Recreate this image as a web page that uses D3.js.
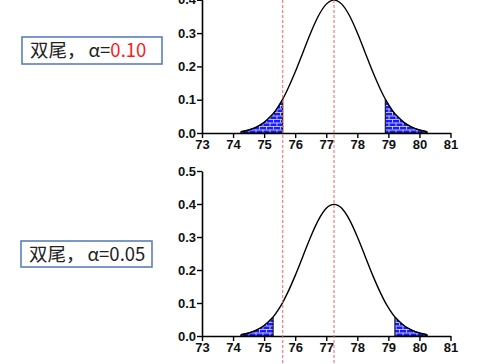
<!DOCTYPE html>
<html>
<head>
<meta charset="utf-8">
<script src="https://cdn.jsdelivr.net/npm/d3@7/dist/d3.min.js"></script>
<style>
  body { margin: 0; background: #fff; }
  svg { display: block; }
</style>
</head>
<body>
<script>
// curve (x, density)
var curveX = [74.25, 74.5, 74.75, 75, 75.25, 75.29, 75.5, 75.6, 75.75, 76, 76.25, 76.5, 76.75, 77,
              77.25, 77.5, 77.75, 78, 78.25, 78.5, 78.75, 78.9, 79, 79.21, 79.25, 79.5, 79.75, 80, 80.25];
var curveY = [0.004, 0.009, 0.018, 0.032, 0.054, 0.058, 0.086, 0.102, 0.130, 0.183, 0.242, 0.301, 0.352, 0.387,
              0.399, 0.387, 0.352, 0.301, 0.242, 0.183, 0.130, 0.102, 0.086, 0.058, 0.054, 0.032, 0.018, 0.009, 0.004];
var xTicks = [73, 74, 75, 76, 77, 78, 79, 80, 81];
var yTicks = [0, 0.1, 0.2, 0.3, 0.4, 0.5];
var panelAlpha = ["0.10", "0.05"];
var critLow = [75.6, 75.29];
var critHigh = [78.9, 79.21];
var guideX = [75.6, 77.25];

var W = 486, H = 364;
var pts = curveX.map(function(x, i){ return {x: x, y: curveY[i]}; });

var svg = d3.select("body").append("svg").attr("width", W).attr("height", H);

var defs = svg.append("defs");
var pat = defs.append("pattern")
    .attr("id", "brick")
    .attr("patternUnits", "userSpaceOnUse")
    .attr("width", 7).attr("height", 7);
pat.append("rect").attr("width", 7).attr("height", 7).attr("fill", "#1a1aff");
var bs = "M0,0.5H7M0,4H7M0.5,0V3.5M4,3.5V7";
pat.append("path").attr("d", bs).attr("stroke", "#dde0ff").attr("stroke-width", 0.8).attr("fill", "none");

var x = d3.scaleLinear().domain([73, 81]).range([202, 450.5]);

var panels = [
  {y0: 133, y1: -33.5, alpha: panelAlpha[0], lo: critLow[0], hi: critHigh[0], box: [22, 37, 140, 27], red: true},
  {y0: 336, y1: 171, alpha: panelAlpha[1], lo: critLow[1], hi: critHigh[1], box: [21, 241, 131, 26], red: false}
];

panels.forEach(function(p){
    var y = d3.scaleLinear().domain([0, 0.5]).range([p.y0, p.y1]);
    var g = svg.append("g");

    var area = d3.area().curve(d3.curveMonotoneX)
        .x(function(d){ return x(d.x); })
        .y0(y(0))
        .y1(function(d){ return y(d.y); });

    g.append("path")
        .datum(pts.filter(function(d){ return d.x <= p.lo + 1e-9; }))
        .attr("d", area)
        .attr("fill", "url(#brick)")
        .attr("stroke", "#000").attr("stroke-width", 1);
    g.append("path")
        .datum(pts.filter(function(d){ return d.x >= p.hi - 1e-9; }))
        .attr("d", area)
        .attr("fill", "url(#brick)")
        .attr("stroke", "#000").attr("stroke-width", 1);

    var line = d3.line().curve(d3.curveMonotoneX)
        .x(function(d){ return x(d.x); })
        .y(function(d){ return y(d.y); });
    g.append("path").datum(pts).attr("d", line)
        .attr("fill", "none").attr("stroke", "#000").attr("stroke-width", 1.4);

    var xa = g.append("g").attr("transform", "translate(0," + p.y0 + ")")
        .call(d3.axisBottom(x).tickValues(xTicks).tickSize(5).tickSizeOuter(0).tickFormat(d3.format("d")));
    var ya = g.append("g").attr("transform", "translate(" + x(73) + ",0)")
        .call(d3.axisLeft(y).tickValues(yTicks).tickSize(5).tickSizeOuter(0).tickFormat(d3.format(".1f")));
    [xa, ya].forEach(function(a){
        a.select(".domain").attr("stroke", "#000").attr("stroke-width", 1.6);
        a.selectAll(".tick line").attr("stroke", "#000").attr("stroke-width", 1.4);
        a.selectAll("text")
            .attr("font-family", "Liberation Sans, Arial, sans-serif")
            .attr("font-weight", "bold").attr("font-size", 13).attr("fill", "#111");
    });
    xa.selectAll("text").attr("dy", "0.75em").attr("y", 6);
    ya.selectAll("text").attr("x", -6);

    // label box
    var b = p.box;
    svg.append("rect").attr("x", b[0]).attr("y", b[1]).attr("width", b[2]).attr("height", b[3])
        .attr("fill", "#fff").attr("stroke", "#5b7fc0").attr("stroke-width", 1.6);
    var t = svg.append("text").attr("x", b[0] + 8).attr("y", b[1] + b[3] / 2 + 6.5)
        .attr("font-family", "Noto Sans CJK SC, sans-serif").attr("font-size", 18.5).attr("fill", "#222");
    t.append("tspan").text("双尾，");
    t.append("tspan").attr("dx", 3).text("α=");
    t.append("tspan").attr("fill", p.red ? "#ff1a1a" : "#222").text(p.alpha);
});

// red dashed guide lines across both panels
svg.selectAll("line.guide").data(guideX).enter().append("line")
    .attr("class", "guide")
    .attr("x1", function(d){ return x(d); }).attr("x2", function(d){ return x(d); })
    .attr("y1", 0).attr("y2", H)
    .attr("stroke", "#ee6060").attr("stroke-width", 1)
    .attr("stroke-dasharray", "3,2");
</script>
</body>
</html>
